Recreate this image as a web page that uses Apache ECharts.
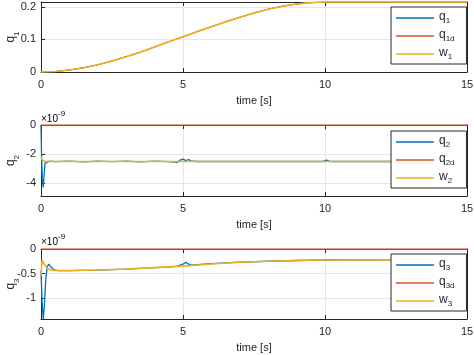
<!DOCTYPE html>
<html>
<head>
<meta charset="utf-8">
<script src="https://cdn.jsdelivr.net/npm/echarts@6/dist/echarts.min.js"></script>
<style>html,body{margin:0;padding:0;background:#fff}#c{width:474px;height:355px}</style>
</head>
<body>
<div id="c"></div>
<script>
// ---------- DATA ----------
const X_TICKS = [0, 5, 10, 15];

// subplot 1 (q1, q1d, w1 overlap: only w1 visible)
const T1 = [0,0.5,1,1.5,2,2.5,3,3.5,4,4.5,5,5.5,6,6.5,7,7.5,8,8.5,9,9.5,10,10.5,11,11.5,12,12.5,13,13.5,14,14.5,15];
const Q1 = [0,0.0016,0.006,0.013,0.022,0.034,0.047,0.061,0.077,0.093,0.108,0.124,0.139,0.154,0.168,0.181,0.193,0.202,0.209,0.213,0.215,0.215,0.215,0.215,0.215,0.215,0.215,0.215,0.215,0.215,0.215];
const Q1D = Q1;
const W1 = Q1;
const Y1_TICKS = [0, 0.1, 0.2];

// subplot 2 (values in units of 1e-9)
const T2 = [0,0.02,0.05,0.08,0.11,0.14,0.2,0.3,0.5,1,1.5,2,2.5,3,3.5,4,4.5,4.8,4.9,5.0,5.1,5.2,5.3,5.5,6,7,8,9,9.9,10.05,10.2,11,12,13,14,15];
const Q2 = [0,-2.2,-3.9,-4.3,-3.4,-2.65,-2.55,-2.5,-2.53,-2.5,-2.54,-2.5,-2.53,-2.49,-2.54,-2.5,-2.53,-2.58,-2.42,-2.36,-2.46,-2.38,-2.5,-2.52,-2.51,-2.52,-2.52,-2.52,-2.52,-2.42,-2.52,-2.52,-2.52,-2.52,-2.52,-2.52];
const Q2D = [0,0,0,0,0,0,0,0,0,0,0,0,0,0,0,0,0,0,0,0,0,0,0,0,0,0,0,0,0,0,0,0,0,0,0,0];
const TW2 = [0,0.06,0.15,0.4,15];
const W2 = [-2.2,-2.45,-2.52,-2.52,-2.52];
const Y2_TICKS = [-4, -2, 0];

// subplot 3 (values in units of 1e-9)
const T3 = [0,0.04,0.08,0.12,0.17,0.22,0.28,0.35,0.45,0.6,1,2,3,4,4.5,4.8,5.0,5.1,5.2,5.3,5.5,6,7,8,9,10,10.2,11,12,13,14,15];
const Q3 = [-0.45,-1.1,-1.43,-1.15,-0.6,-0.36,-0.31,-0.37,-0.42,-0.44,-0.44,-0.43,-0.41,-0.38,-0.37,-0.35,-0.31,-0.27,-0.31,-0.33,-0.32,-0.3,-0.27,-0.25,-0.235,-0.225,-0.22,-0.222,-0.222,-0.222,-0.222,-0.222];
const Q3D = [0,0,0,0,0,0,0,0,0,0,0,0,0,0,0,0,0,0,0,0,0,0,0,0,0,0,0,0,0,0,0,0];
const TW3 = [0,0.04,0.1,0.2,0.3,0.45,1,2,3,4,5,6,7,8,9,10,15];
const W3 = [-0.55,-0.22,-0.3,-0.38,-0.42,-0.44,-0.44,-0.43,-0.41,-0.38,-0.35,-0.305,-0.27,-0.25,-0.235,-0.225,-0.222];
const Y3_TICKS = [-1, -0.5, 0];

// ---------- CHART ----------
const FONT = '"Liberation Sans", Arial, sans-serif';
const TXT = '#262626';
const AX = '#262626';
const GRIDC = '#e6e6e6';
const COL = {q: '#0072BD', qd: '#D95319', w: '#EDB120'};
const pair = (t, v) => t.map((x, i) => [x, v[i]]);

const subRich = {
  q: {fontSize: 12, fontFamily: FONT, color: TXT, lineHeight: 16, verticalAlign: 'top'},
  s: {fontSize: 8, fontFamily: FONT, color: TXT, verticalAlign: 'bottom'}
};

const plots = [
  {top: 2, height: 70, min: 0, max: 0.215, ticks: Y1_TICKS, idx: '1',
   series: [['q1', pair(T1, Q1), COL.q], ['q1d', pair(T1, Q1D), COL.qd], ['w1', pair(T1, W1), COL.w]], legTop: 7},
  {top: 125, height: 71, min: -4.9, max: 0, ticks: Y2_TICKS, idx: '2',
   series: [['q2', pair(T2, Q2), COL.q], ['q2d', pair(T2, Q2D), COL.qd], ['w2', pair(TW2, W2), COL.w]], legTop: 131},
  {top: 249, height: 70, min: -1.43, max: 0, ticks: Y3_TICKS, idx: '3',
   series: [['q3', pair(T3, Q3), COL.q], ['q3d', pair(T3, Q3D), COL.qd], ['w3', pair(TW3, W3), COL.w]], legTop: 254}
];

const grid = [], xAxis = [], yAxis = [], series = [], legend = [], graphic = [];
plots.forEach((p, g) => {
  grid.push({left: 41, right: 7, top: p.top, height: p.height, containLabel: false, outerBoundsMode: 'none'});
  const xBase = {gridIndex: g, type: 'value', min: 0, max: 15, interval: 5};
  xAxis.push(Object.assign({}, xBase, {
    position: 'bottom',
    name: 'time [s]', nameLocation: 'middle', nameGap: 23, nameMoveOverlap: false,
    nameTextStyle: {fontFamily: FONT, fontSize: 11, color: TXT},
    axisLine: {show: true, onZero: false, lineStyle: {color: AX, width: 1}},
    axisTick: {show: true, inside: true, length: 4, lineStyle: {color: AX}},
    axisLabel: {show: true, margin: 7, fontFamily: FONT, fontSize: 11, color: TXT,
      customValues: X_TICKS},
    splitLine: {show: true, lineStyle: {color: GRIDC, width: 1}}
  }));
  xAxis.push(Object.assign({}, xBase, {
    position: 'top',
    axisLine: {show: true, onZero: false, lineStyle: {color: AX, width: 1}},
    axisTick: {show: true, inside: true, length: 4, lineStyle: {color: AX}},
    axisLabel: {show: false}, splitLine: {show: false}
  }));
  yAxis.push({
    gridIndex: g, type: 'value', min: p.min, max: p.max, position: 'left',
    name: '{q|q}{s|' + p.idx + '}', nameLocation: 'middle', nameGap: 20, nameRotate: 90,
    nameMoveOverlap: false,
    nameTextStyle: {rich: subRich},
    axisLine: {show: true, onZero: false, lineStyle: {color: AX, width: 1}},
    axisTick: {show: true, inside: true, length: 4, lineStyle: {color: AX}, customValues: p.ticks},
    axisLabel: {show: true, margin: 5, fontFamily: FONT, fontSize: 11, color: TXT, customValues: p.ticks},
    splitLine: {show: true, lineStyle: {color: GRIDC, width: 1}}
  });
  yAxis.push({
    gridIndex: g, type: 'value', min: p.min, max: p.max, position: 'right',
    axisLine: {show: true, onZero: false, lineStyle: {color: AX, width: 1}},
    axisTick: {show: true, inside: true, length: 4, lineStyle: {color: AX}, customValues: p.ticks},
    axisLabel: {show: false}, splitLine: {show: false}
  });
  p.series.forEach(([name, data, color], k) => {
    series.push({
      name, type: 'line', xAxisIndex: 2 * g, yAxisIndex: 2 * g, data,
      showSymbol: false, symbol: 'none',
      lineStyle: {color, width: k === 2 ? 1.6 : (g === 0 ? 1.0 : 1.3)}, itemStyle: {color},
      animation: false, silent: true
    });
  });
  legend.push({
    data: p.series.map(s => s[0]), orient: 'vertical', left: 391, top: p.legTop,
    icon: 'rect', itemWidth: 38, itemHeight: 1.5, itemGap: 4,
    padding: [4, 12, 3, 5], backgroundColor: '#fff', borderColor: AX, borderWidth: 1, borderRadius: 0,
    selectedMode: false,
    formatter: n => '{q|' + n.charAt(0) + '}{s|' + n.slice(1) + '}',
    textStyle: {rich: {
      q: {fontSize: 12, fontFamily: FONT, color: TXT, lineHeight: 14, verticalAlign: 'top'},
      s: {fontSize: 8, fontFamily: FONT, color: TXT, verticalAlign: 'bottom'}
    }}
  });
});

const supRich = {
  a: {fontSize: 10, fontFamily: FONT, color: TXT, lineHeight: 14, verticalAlign: 'bottom'},
  b: {fontSize: 8, fontFamily: FONT, color: TXT, verticalAlign: 'top'}
};
graphic.push({type: 'text', left: 41, top: 110, z: 100, style: {text: '{a|×10}{b|-9}', rich: supRich}});
graphic.push({type: 'text', left: 41, top: 233, z: 100, style: {text: '{a|×10}{b|-9}', rich: supRich}});

const chart = echarts.init(document.getElementById('c'), null, {renderer: 'canvas'});
chart.setOption({backgroundColor: '#fff', animation: false, grid, xAxis, yAxis, series, legend, graphic});
</script>
</body>
</html>
